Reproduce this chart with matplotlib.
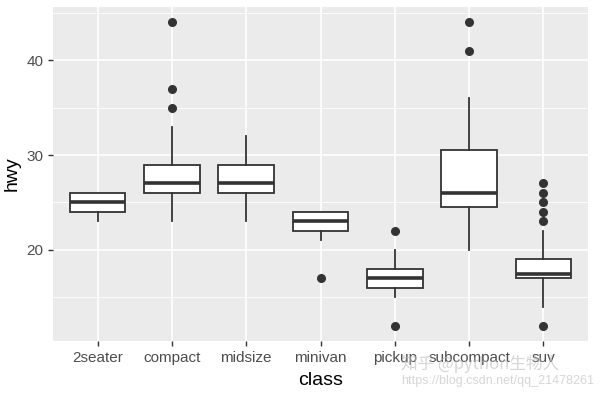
import matplotlib
matplotlib.use("Agg")
import matplotlib.pyplot as plt

classes = ["2seater", "compact", "midsize", "minivan", "pickup", "subcompact", "suv"]
whislo = [23, 23, 23, 21, 15, 20, 14]
q1 = [24, 26, 26, 22, 16, 24.5, 17]
med = [25, 27, 27, 23, 17, 26, 17.5]
q3 = [26, 29, 29, 24, 18, 30.5, 19]
whishi = [26, 33, 32, 24, 20, 36, 22]
fliers = [[], [35, 37, 44], [], [17], [12, 22], [41, 44], [12, 23, 24, 25, 26, 27]]
yticks = [20, 30, 40]

stats = []
for i, c in enumerate(classes):
    stats.append(dict(label=c, whislo=whislo[i], q1=q1[i], med=med[i], q3=q3[i],
                      whishi=whishi[i], fliers=fliers[i]))

fig = plt.figure(figsize=(6.0, 3.93), dpi=100)
ax = fig.add_axes([53/600, 1-341/393, (588-53)/600, (341-7)/393])
ax.set_facecolor("#EBEBEB")
for s in ax.spines.values():
    s.set_visible(False)

positions = list(range(1, len(classes)+1))
ax.bxp(stats, positions=positions, widths=0.75, patch_artist=True, showcaps=False,
       boxprops=dict(facecolor="white", edgecolor="#333333", linewidth=1.3),
       whiskerprops=dict(color="#333333", linewidth=1.3),
       medianprops=dict(color="#333333", linewidth=2.6, solid_capstyle="butt"),
       flierprops=dict(marker="o", markerfacecolor="#333333", markeredgecolor="#333333",
                       markersize=5.5, linestyle="none"),
       zorder=3)

ax.set_xlim(0.4, 7.6)
ax.set_ylim(10.4, 45.6)
ax.set_yticks(yticks)
ax.set_yticks([15, 25, 35, 45], minor=True)
ax.set_xticks(positions)
ax.set_xticklabels(classes)
ax.grid(which="major", color="white", linewidth=1.2, zorder=0)
ax.grid(which="minor", axis="y", color="white", linewidth=0.6, zorder=0)
ax.set_axisbelow(True)
ax.tick_params(which="major", colors="#333333", labelcolor="#4D4D4D", length=3.5, width=1.0,
               labelsize=11)
ax.tick_params(axis="x", pad=4)
ax.tick_params(which="minor", length=0)
for lab in ax.get_xticklabels() + ax.get_yticklabels():
    lab.set_family("Liberation Sans")
ax.set_xlabel("class", fontsize=14, family="Liberation Sans", labelpad=5)
ax.set_ylabel("hwy", fontsize=14, family="Liberation Sans", labelpad=4)

fig.text(0.668, 0.06, "知乎 @python生物人", fontsize=12, color="#BBBBBB", alpha=0.6,
         family=["Noto Sans CJK SC", "DejaVu Sans"])
fig.text(0.668, 0.022, "https://blog.csdn.net/qq_21478261", fontsize=9, color="#BBBBBB",
         alpha=0.6, family=["Liberation Sans", "DejaVu Sans"])

fig.savefig("out.png", dpi=100)
